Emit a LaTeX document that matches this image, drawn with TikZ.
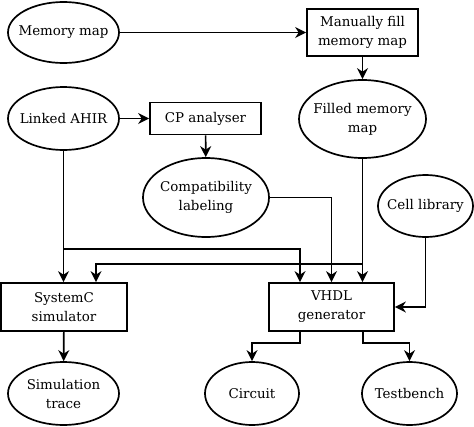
\documentclass[tikz,border=0pt]{standalone}
\usepackage{fontspec}
\setmainfont{DejaVu Serif}
\usetikzlibrary{shapes.geometric,arrows.meta,calc}
\begin{document}
\begin{tikzpicture}[x=1pt,y=-1pt,
  every node/.style={font=\fontsize{13.4}{19}\selectfont},
  ell/.style={draw,ellipse,line width=1.7pt,inner sep=0pt},
  box/.style={draw,rectangle,line width=1.7pt,inner sep=0pt,align=center},
  lbl/.style={align=center,inner sep=0pt},
  arr/.style={line width=1.7pt,-{Stealth[length=11pt,width=11pt,inset=3.5pt]}}]
\useasboundingbox (0,0) rectangle (474,426);
\node[ell,minimum width=111,minimum height=61,label={[lbl]center:Memory map}] (mm) at (63.5,32.5) {};
\node[box,minimum width=111,minimum height=47] (man) at (362.5,32.5) {Manually fill\\memory map};
\node[ell,minimum width=111,minimum height=63,label={[lbl]center:Linked AHIR}] (la) at (63.5,118.5) {};
\node[box,minimum width=111,minimum height=32] (cp) at (205.5,118.5) {CP analyser};
\node[ell,minimum width=127,minimum height=78,label={[lbl]center:Filled memory\\map}] (fmm) at (362.5,119) {};
\node[ell,minimum width=126,minimum height=79,label={[lbl]center:Compatibility\\labeling}] (cl) at (206,197.5) {};
\node[ell,minimum width=95,minimum height=62,label={[lbl]center:Cell library}] (cell) at (425.5,206) {};
\node[box,minimum width=126,minimum height=48] (sysc) at (64,307) {SystemC\\simulator};
\node[box,minimum width=125,minimum height=48] (vhdl) at (331.5,307) {VHDL\\generator};
\node[ell,minimum width=111,minimum height=63,label={[lbl]center:Simulation\\trace}] (st) at (63.5,393.5) {};
\node[ell,minimum width=94,minimum height=63,label={[lbl]center:Circuit}] (circ) at (252,393.5) {};
\node[ell,minimum width=95,minimum height=63,label={[lbl]center:Testbench}] (tb) at (409.5,393.5) {};
\coordinate (b1) at ($(la.south)+(0,98)$);
\coordinate (b2) at ($(fmm.south)+(0,105)$);
\draw[arr] (mm) -- (man);
\draw[arr] (man) -- (fmm);
\draw[arr] (la) -- (cp);
\draw[arr] (cp) -- (cl);
\draw[arr] (cl.east) -| (vhdl.north);
\draw[arr] (fmm.south) -- (fmm.south |- vhdl.north);
\draw[arr] (b2) -| ([xshift=32pt]sysc.north);
\draw[arr] (la.south) -- (la.south |- sysc.north);
\draw[arr] (b1) -| ([xshift=-31.5pt]vhdl.north);
\draw[arr] (cell.south) |- (vhdl.east);
\draw[arr] (sysc) -- (st);
\draw[arr] ([xshift=-31.5pt]vhdl.south) -- ++(0,11) -| (circ.north);
\draw[arr] ([xshift=31.5pt]vhdl.south) -- ++(0,11) -| (tb.north);
\end{tikzpicture}
\end{document}
